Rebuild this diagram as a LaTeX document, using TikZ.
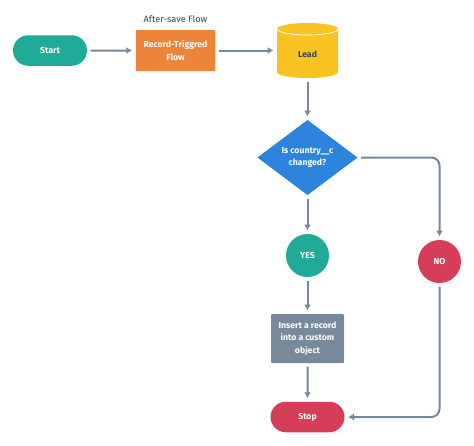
\documentclass[tikz,border=0pt]{standalone}
\usepackage{fontspec}
\setmainfont{Fira Sans}
\usetikzlibrary{arrows.meta,shapes.geometric,shapes.misc}
\definecolor{cteal}{HTML}{1FAB98}
\definecolor{corange}{HTML}{EC8439}
\definecolor{cyellow}{HTML}{F9C322}
\definecolor{cblue}{HTML}{2D84DD}
\definecolor{cred}{HTML}{D63E58}
\definecolor{cslate}{HTML}{78899B}
\definecolor{cline}{HTML}{78889A}
\definecolor{cdark}{HTML}{3D4450}
\tikzset{
  x=1pt,y=-1pt,
  every node/.style={font=\fontsize{8.7}{12.2}\selectfont\bfseries,align=center,inner sep=0pt,outer sep=0pt,text=white},
  pill/.style={rounded rectangle,minimum width=74pt,minimum height=30.5pt},
  boxnode/.style={draw=none,rounded corners=1pt,minimum width=#1},
  round/.style={circle,minimum size=43pt},
  conn/.style={draw=cline,line width=2pt,-{Latex[length=6pt,width=7pt]},shorten >=3.5pt,shorten <=3.5pt},
}
\begin{document}
\begin{tikzpicture}
\useasboundingbox (0,0) rectangle (474,445);
\fill[white] (0,0) rectangle (474,445);
\node[pill,fill=cteal] (start) at (50,50.5) {Start};
\node[boxnode=79.5pt,minimum height=41pt,fill=corange] (flow) at (175.5,50.5) {Record-Triggred\\Flow};
\node[font=\fontsize{9.2}{12}\selectfont,text=cdark] (title) at (175.5,19) {After-save Flow};
\node[minimum width=61pt,minimum height=55pt] (lead) at (307.5,50.5) {};
\fill[cyellow] (lead.west |- 0,29) arc[start angle=180,end angle=0,x radius=30.5,y radius=-6]
  -- (lead.east |- 0,72) arc[start angle=0,end angle=180,x radius=30.5,y radius=6] -- cycle;
\draw[white,line width=0.7pt] (lead.west |- 0,29) arc[start angle=180,end angle=0,x radius=30.5,y radius=6];
\node[text=cdark] (leadlabel) at (307.5,54) {Lead};
\node[diamond,fill=cblue,minimum width=100pt,minimum height=75pt,aspect=1.33] (dec) at (307.5,157.5) {Is country\_\kern-0.3pt\_c\\changed?};
\node[round,fill=cteal] (yes) at (307.5,255.5) {YES};
\node[round,fill=cred] (no) at (439.5,261.5) {NO};
\node[boxnode=73pt,minimum height=49pt,fill=cslate] (ins) at (307.5,338.5) {Insert a record\\into a custom\\object};
\node[pill,fill=cred] (stop) at (307.5,417) {Stop};
\draw[conn] (start) -- (flow);
\draw[conn] (flow) -- (lead);
\draw[conn] (lead) -- (dec);
\draw[conn] (dec) -- (yes);
\draw[conn] (yes) -- (ins);
\draw[conn] (ins) -- (stop);
\draw[conn,rounded corners=8pt] (dec.east) -| (no.north);
\draw[conn,rounded corners=8pt] (no.south) |- (stop.east);
\end{tikzpicture}
\end{document}
